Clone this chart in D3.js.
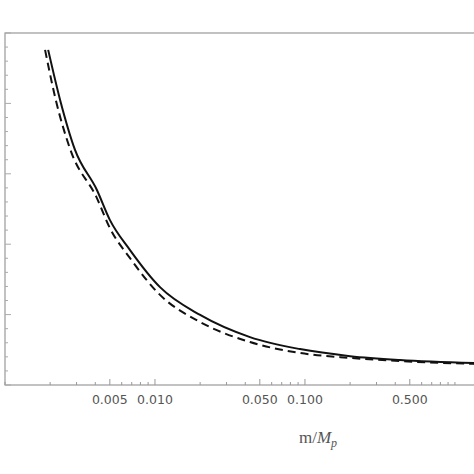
<!DOCTYPE html>
<html><head><meta charset="utf-8">
<script src="https://cdn.jsdelivr.net/npm/d3@7"></script>
<style>body{margin:0;background:#fff}</style>
</head><body>
<svg id="chart" width="474" height="474"></svg>
<script>
const solidM = [0.00194, 0.00233, 0.00293, 0.0041, 0.005, 0.0068, 0.0108, 0.02, 0.043, 0.0926, 0.2, 0.43, 1.34];
const solidV = [95.2, 81, 66.8, 55.4, 46.9, 38.4, 27.8, 19.9, 13.6, 10.2, 8.2, 7.1, 6.25];
const dashM = [0.00185, 0.00218, 0.00273, 0.0041, 0.005, 0.0068, 0.0108, 0.02, 0.043, 0.0926, 0.2, 0.43, 1.34];
const dashV = [95.2, 81, 66.8, 53.1, 44.6, 36.1, 25.6, 17.9, 12.2, 9.1, 7.7, 6.8, 6];
const tickVals = [0.005, 0.01, 0.05, 0.1, 0.5];
const tickLabels = ["0.005", "0.010", "0.050", "0.100", "0.500"];

const svg = d3.select("#chart");
const x = d3.scaleLog().domain([0.001, 1.34]).range([5, 474]);
const y = d3.scaleLinear().domain([0, 100]).range([385, 33]);

svg.append("rect").attr("x", 5).attr("y", 33).attr("width", 480).attr("height", 352)
  .attr("fill", "none").attr("stroke", "#999").attr("stroke-width", 1.2);

// minor ticks along bottom and left
const minor = [];
[0.001, 0.01, 0.1, 1].forEach(d => { for (let k = 1; k < 10; k++) if (d * k <= 1.34) minor.push(d * k); });
svg.selectAll(".minor").data(minor).enter().append("line")
  .attr("x1", d => x(d)).attr("x2", d => x(d)).attr("y1", 385)
  .attr("y2", d => tickVals.includes(+d.toPrecision(3)) ? 379 : 382)
  .attr("stroke", "#999");
svg.selectAll(".ytick").data(d3.range(0, 101, 4)).enter().append("line")
  .attr("x1", 5).attr("x2", (d, i) => i % 5 === 0 ? 11 : 8)
  .attr("y1", d => y(d)).attr("y2", d => y(d)).attr("stroke", "#aaa");

svg.selectAll(".tl").data(tickVals).enter().append("text")
  .attr("x", d => x(d)).attr("y", 404).attr("text-anchor", "middle")
  .attr("font-family", "DejaVu Sans, sans-serif").attr("font-size", 12.5).attr("fill", "#555")
  .text((d, i) => tickLabels[i]);

const line = d3.line().x(d => x(d[0])).y(d => y(d[1])).curve(d3.curveMonotoneX);
svg.append("path").datum(solidM.map((m, i) => [m, solidV[i]])).attr("d", line)
  .attr("fill", "none").attr("stroke", "#111").attr("stroke-width", 2);
svg.append("path").datum(dashM.map((m, i) => [m, dashV[i]])).attr("d", line)
  .attr("fill", "none").attr("stroke", "#111").attr("stroke-width", 2).attr("stroke-dasharray", "8,5");

const lab = svg.append("text").attr("x", 318).attr("y", 443).attr("text-anchor", "middle")
  .attr("font-family", "Liberation Serif, serif").attr("font-size", 17).attr("fill", "#555");
lab.append("tspan").text("m/");
lab.append("tspan").attr("font-style", "italic").text("M");
lab.append("tspan").attr("font-style", "italic").attr("font-size", 12).attr("dy", 4).text("p");
</script>
</body></html>
